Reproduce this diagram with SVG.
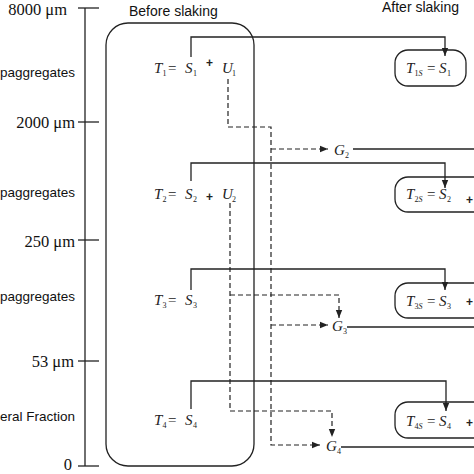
<svg xmlns="http://www.w3.org/2000/svg" width="474" height="474" viewBox="0 0 474 474">
<style>
.ln{fill:none;stroke:#222;stroke-width:1.3}
.ds{fill:none;stroke:#222;stroke-width:1.2;stroke-dasharray:5 3}
.ax{font-family:"Liberation Serif",serif;font-size:16.5px;fill:#111;text-anchor:end}
.cat{font-family:"Liberation Sans",Arial,sans-serif;font-size:13.5px;fill:#111;text-anchor:end}
.hd{font-family:"Liberation Sans",Arial,sans-serif;font-size:14px;fill:#111}
.v{font-family:"Liberation Serif",serif;font-style:italic;font-size:15px;fill:#222}
.sb{font-family:"Liberation Serif",serif;font-size:8px;fill:#222}
.si{font-family:"Liberation Serif",serif;font-style:italic;font-size:8px;fill:#222}
.eq{font-family:"Liberation Serif",serif;font-size:15px;fill:#222}
.pl{font-family:"Liberation Sans",Arial,sans-serif;font-weight:bold;font-size:12px;fill:#222}
.box{fill:none;stroke:#222;stroke-width:1.3}
</style>
<defs>
<marker id="ah" markerUnits="userSpaceOnUse" markerWidth="8" markerHeight="8" viewBox="0 0 8 8" refX="8" refY="4" orient="auto">
<path d="M0,0.8 L8,4 L0,7.2 Z" fill="#222"/>
</marker>
</defs>

<g id="axis">
<line class="ln" x1="85" y1="8" x2="85" y2="466"/>
<line class="ln" x1="78" y1="8" x2="99" y2="8"/>
<line class="ln" x1="78" y1="122" x2="99" y2="122"/>
<line class="ln" x1="78" y1="240" x2="99" y2="240"/>
<line class="ln" x1="78" y1="361" x2="99" y2="361"/>
<line class="ln" x1="78" y1="466" x2="99" y2="466"/>
<text class="ax" x="67" y="15">8000 μm</text>
<text class="ax" x="75" y="128">2000 μm</text>
<text class="ax" x="75" y="247">250 μm</text>
<text class="ax" x="74" y="367">53 μm</text>
<text class="ax" x="72" y="470">0</text>
<text class="cat" x="75" y="77">paggregates</text>
<text class="cat" x="75" y="197">paggregates</text>
<text class="cat" x="75" y="301">paggregates</text>
<text class="cat" x="75" y="421">eral Fraction</text>
</g>

<g id="before">
<text class="hd" x="129" y="16">Before slaking</text>
<rect class="box" x="106" y="23" width="148" height="443" rx="22"/>
<g id="row1">
<text class="v" x="154" y="73">T</text><text class="sb" x="162.5" y="76">1</text>
<text class="eq" x="168" y="73">=</text>
<text class="v" x="185" y="73">S</text><text class="sb" x="193" y="76">1</text>
<text class="pl" x="206" y="67">+</text>
<text class="v" x="222" y="73">U</text><text class="sb" x="232" y="76">1</text>
</g>
<g id="row2">
<text class="v" x="154" y="199">T</text><text class="sb" x="162.5" y="202">2</text>
<text class="eq" x="168" y="199">=</text>
<text class="v" x="185" y="199">S</text><text class="sb" x="193" y="202">2</text>
<text class="pl" x="206" y="201">+</text>
<text class="v" x="222" y="199">U</text><text class="sb" x="232" y="202">2</text>
</g>
<g id="row3">
<text class="v" x="154" y="305">T</text><text class="sb" x="162.5" y="308">3</text>
<text class="eq" x="168" y="305">=</text>
<text class="v" x="185" y="305">S</text><text class="sb" x="193" y="308">3</text>
</g>
<g id="row4">
<text class="v" x="154" y="425">T</text><text class="sb" x="162.5" y="428">4</text>
<text class="eq" x="168" y="425">=</text>
<text class="v" x="185" y="425">S</text><text class="sb" x="193" y="428">4</text>
</g>
</g>

<g id="after">
<text class="hd" x="382" y="12">After slaking</text>
<g id="box1">
<rect class="box" x="395" y="50" width="71" height="36" rx="13"/>
<text class="v" x="406" y="73">T</text><text class="sb" x="414.5" y="76">1</text><text class="si" x="418.5" y="76">S</text>
<text class="eq" x="427" y="73">=</text>
<text class="v" x="439" y="73">S</text><text class="sb" x="447" y="76">1</text>
</g>
<g id="box2">
<rect class="box" x="395" y="177" width="110" height="35" rx="13"/>
<text class="v" x="406" y="199">T</text><text class="sb" x="414.5" y="202">2</text><text class="si" x="418.5" y="202">S</text>
<text class="eq" x="427" y="199">=</text>
<text class="v" x="439" y="199">S</text><text class="sb" x="447" y="202">2</text>
<text class="pl" x="466" y="204">+</text>
</g>
<g id="box3">
<rect class="box" x="395" y="283" width="110" height="35" rx="13"/>
<text class="v" x="406" y="306">T</text><text class="sb" x="414.5" y="309">3</text><text class="si" x="418.5" y="309">S</text>
<text class="eq" x="427" y="306">=</text>
<text class="v" x="439" y="306">S</text><text class="sb" x="447" y="309">3</text>
<text class="pl" x="466" y="306">+</text>
</g>
<g id="box4">
<rect class="box" x="395" y="402" width="110" height="36" rx="13"/>
<text class="v" x="406" y="426">T</text><text class="sb" x="414.5" y="429">4</text><text class="si" x="418.5" y="429">S</text>
<text class="eq" x="427" y="426">=</text>
<text class="v" x="439" y="426">S</text><text class="sb" x="447" y="429">4</text>
<text class="pl" x="466" y="427">+</text>
</g>
</g>

<g id="gnodes">
<g id="G2"><text class="v" x="334" y="155">G</text><text class="sb" x="345" y="158">2</text></g>
<g id="G3"><text class="v" x="332" y="331">G</text><text class="sb" x="343" y="334">3</text></g>
<g id="G4"><text class="v" x="326" y="451">G</text><text class="sb" x="337" y="454">4</text></g>
</g>

<g id="connectors">
<path class="ln" d="M191,57 V37 H445 V56" marker-end="url(#ah)"/>
<path class="ln" d="M191,181 V163 H445 V188" marker-end="url(#ah)"/>
<path class="ln" d="M191,290 V269 H445 V290" marker-end="url(#ah)"/>
<path class="ln" d="M191,409 V381 H446 V411" marker-end="url(#ah)"/>
<path class="ln" d="M353,149 H474"/>
<path class="ln" d="M347,327 H474"/>
<path class="ln" d="M341,447 H474"/>
<path class="ds" d="M228,79 V127 H271 V445 H320" marker-end="url(#ah)"/>
<path class="ds" d="M271,149 H328" marker-end="url(#ah)"/>
<path class="ds" d="M271,325 H328" marker-end="url(#ah)"/>
<path class="ds" d="M230,203 V411 H332 V437" marker-end="url(#ah)"/>
<path class="ds" d="M230,295 H339 V318" marker-end="url(#ah)"/>
</g>
</svg>
